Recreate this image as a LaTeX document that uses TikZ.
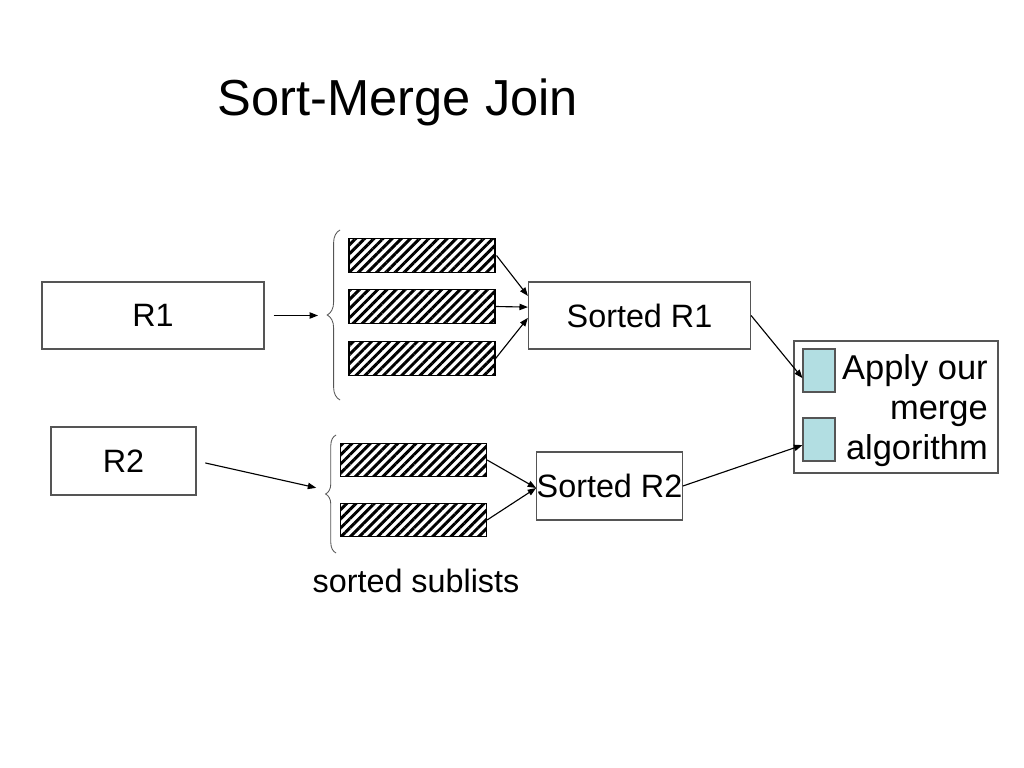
\documentclass[tikz,border=0pt]{standalone}
\usepackage{fontspec}
\setmainfont{Liberation Sans}
\usetikzlibrary{arrows.meta, patterns.meta, decorations.pathreplacing}
\definecolor{boxgray}{RGB}{85,85,85}
\definecolor{keyblue}{RGB}{178,222,226}

\begin{document}
\begin{tikzpicture}[x=0.025cm, y=-0.025cm, >={Triangle[length=6pt, width=4.5pt]},
    box/.style={draw=boxgray, line width=0.8pt, inner sep=0pt, font=\fontsize{23}{28}\selectfont},
    run/.style={draw=black, line width=0.8pt, minimum width=3.65cm, minimum height=0.84cm,
        pattern={Lines[angle=45, distance=4.6pt, line width=2.1pt]}},
    keybox/.style={draw=boxgray, line width=0.8pt, fill=keyblue, minimum width=0.8cm, minimum height=1.075cm},
    link/.style={->, line width=0.8pt}]
    \useasboundingbox (0,0) rectangle (1024,768);

    % Title
    \node[font=\fontsize{36}{40}\selectfont] (title) at (398,102) {Sort-Merge Join};

    % Relations
    \node[box, minimum width=5.55cm, minimum height=1.675cm] (r1) at (153,315.5) {R1};
    \node[box, minimum width=3.625cm, minimum height=1.7cm] (r2) at (123.5,461) {R2};

    % Sorted sublists
    \foreach \y [count=\i] in {255.5,306.5,358.5}
        \node[run] (s1\i) at (422,\y) {};
    \foreach \y [count=\i] in {460,520}
        \node[run] (s2\i) at (413.5,\y) {};
    \draw[boxgray, line width=0.6pt, decorate, decoration={brace, amplitude=0.32cm}] (340,400) -- (340,230);
    \draw[boxgray, line width=0.6pt, decorate, decoration={brace, amplitude=0.26cm}] (336,553) -- (336,435);
    \coordinate (b1) at (326,315.5);
    \coordinate (b2) at (326,490);
    \node[font=\fontsize{23}{28}\selectfont] (lbl) at (416,581) {sorted sublists};

    % Sorted relations
    \node[box, minimum width=5.55cm, minimum height=1.675cm] (sr1) at (639.5,315.5) {Sorted R1};
    \node[box, minimum width=3.625cm, minimum height=1.7cm] (sr2) at (609.5,486) {Sorted R2};

    % Merge
    \node[box, minimum width=5.1cm, minimum height=3.3cm] (merge) at (896,407) {};
    \node[keybox] (k1) at (819,370.5) {};
    \node[keybox] (k2) at (819,439.5) {};
    \node[align=right, anchor=east, inner sep=0pt, font=\fontsize{24.5}{28.4}\selectfont] (mtxt) at (988,411) {Apply our\\merge\\algorithm};

    % Arrows
    \draw[link, shorten <=0.225cm, shorten >=0.2cm] (r1.east) -- (b1);
    \draw[link, shorten <=0.225cm, shorten >=0.25cm] (r2.east) -- (b2);
    \draw[link] (s11.east) -- ([yshift=0.49cm]sr1.west);
    \draw[link] (s12.east) -- ([yshift=0.21cm]sr1.west);
    \draw[link] (s13.east) -- ([yshift=-0.06cm]sr1.west);
    \draw[link] (s21.east) -- ([yshift=-0.05cm]sr2.west);
    \draw[link] (s22.east) -- ([yshift=-0.05cm]sr2.west);
    \draw[link] (sr1.east) -- ([yshift=-0.19cm]k1.west);
    \draw[link] (sr2.east) -- ([yshift=-0.14cm]k2.west);
\end{tikzpicture}
\end{document}
